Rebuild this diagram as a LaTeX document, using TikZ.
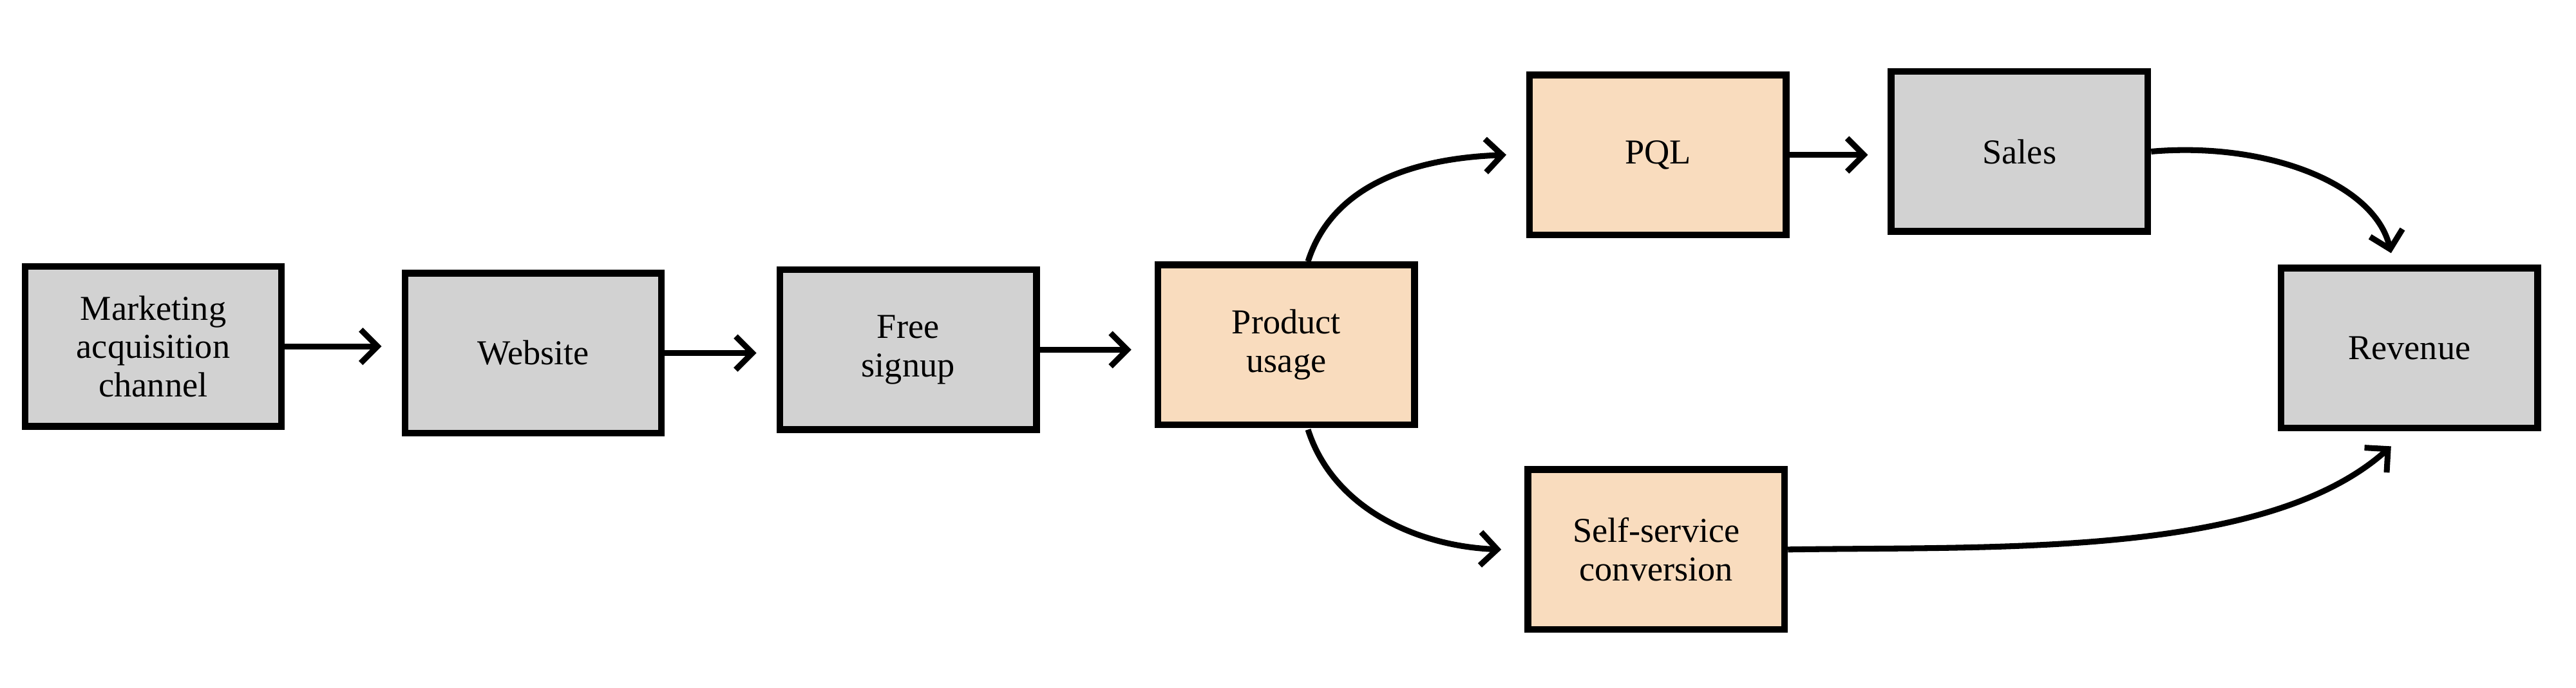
\documentclass[tikz,border=0pt]{standalone}
\usepackage{fontspec}
\setmainfont{Liberation Serif}
\usetikzlibrary{arrows.meta}
\definecolor{gbox}{HTML}{D2D2D2}
\definecolor{obox}{HTML}{F9DCBE}
\begin{document}
\begin{tikzpicture}[x=1pt,y=-1pt,
 box/.style={draw=black,line width=4pt,minimum width=154pt,minimum height=96pt,align=center,font=\fontsize{21}{23}\selectfont,inner sep=2pt},
 g/.style={box,fill=gbox}, o/.style={box,fill=obox},
 arr/.style={line width=3.5pt,-{Straight Barb[length=10pt,width=20pt,line width=3.5pt]}}]
\useasboundingbox (0,0) rectangle (1546,413);
\node[g] (m) at (92,208) {Marketing\\acquisition\\channel};
\node[g] (w) at (320,212) {Website};
\node[g] (f) at (545,210) {Free\\signup};
\node[o] (p) at (772,207) {Product\\usage};
\node[o] (q) at (995,93) {PQL};
\node[g] (s) at (1212,91) {Sales};
\node[o] (c) at (994,330) {Self-service\\conversion};
\node[g] (r) at (1446,209) {Revenue};
\coordinate (ptop) at (785,157);
\coordinate (pbot) at (785,258);
\coordinate (rtop) at (1435,152);
\coordinate (rside) at (1435,268);
\draw[arr] (m.east) -- ([xshift=-12pt]m.east -| w.west);
\draw[arr] (w.east) -- ([xshift=-12pt]w.east -| f.west);
\draw[arr] (f.east) -- ([xshift=-14pt]f.east -| p.west);
\draw[arr] (q.east) -- ([xshift=-12pt]q.east -| s.west);
\draw[arr] (ptop) .. controls (800,110) and (850,95) .. ([xshift=-12pt]q.west);
\draw[arr] (pbot) .. controls (800,305) and (850,328) .. ([xshift=-14pt]c.west);
\draw[arr] (s.east) .. controls (1360,85) and (1425,110) .. (rtop);
\draw[arr] (c.east) .. controls (1200,328) and (1360,335) .. (rside);
\end{tikzpicture}
\end{document}
